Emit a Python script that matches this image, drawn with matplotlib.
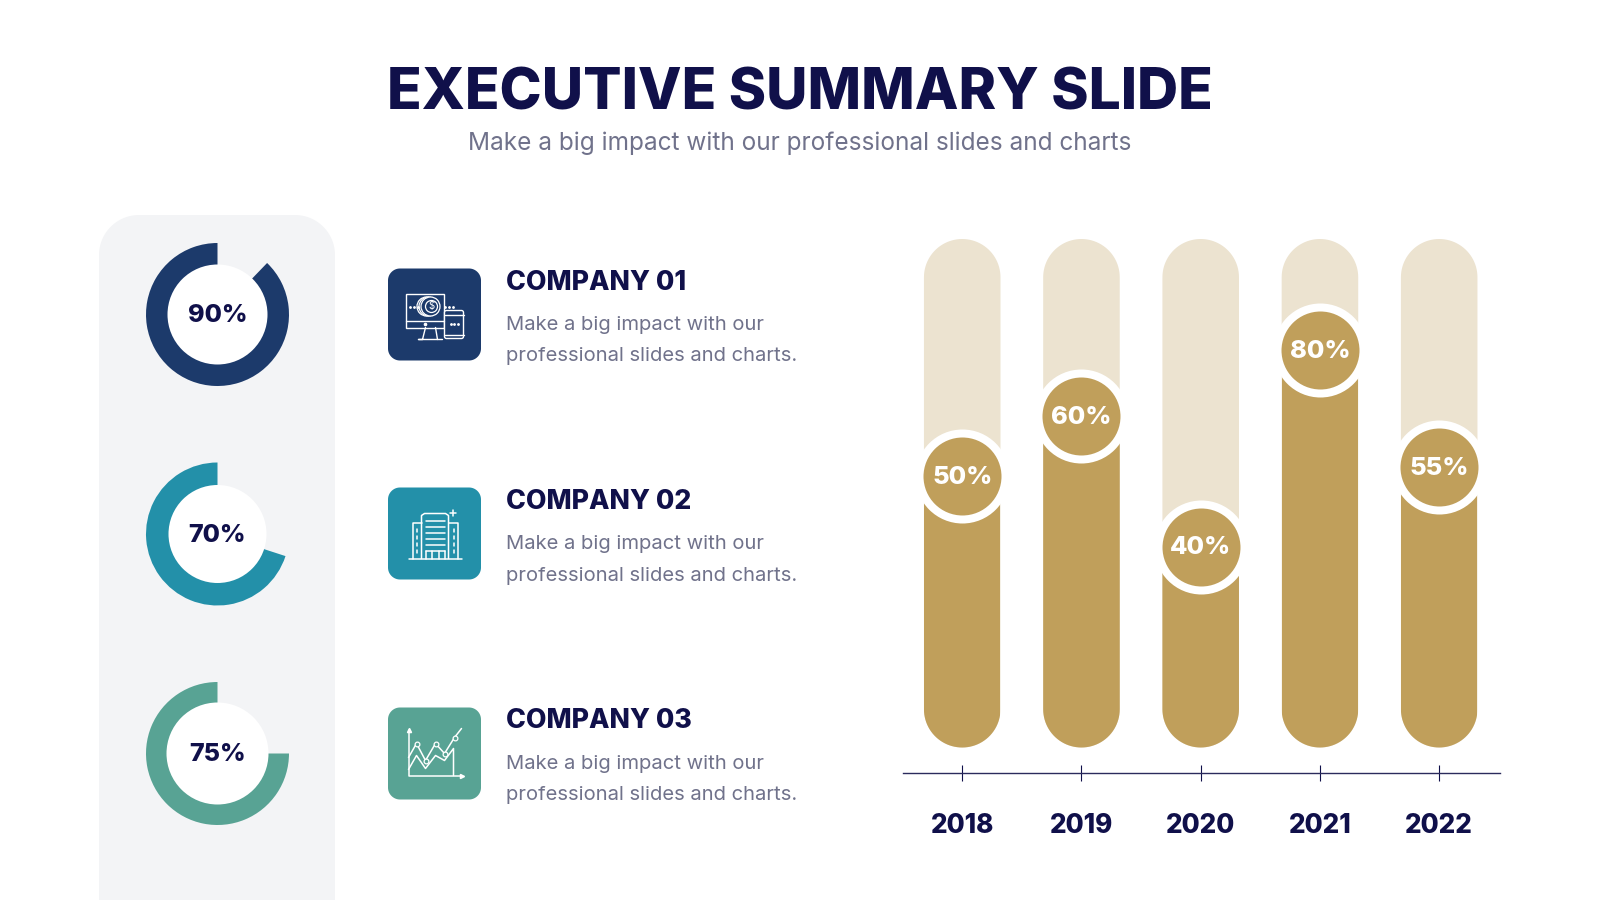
import numpy as np
import matplotlib
matplotlib.use("Agg")
import matplotlib.pyplot as plt
from matplotlib.patches import Circle, Polygon, Rectangle

FONT = "Inter"
INK = "#10104a"
GREY = "#70728b"
GOLD = "#c09f5b"
CREAM = "#ece3d0"
PANEL = "#f3f4f6"

# data
companies = ["COMPANY 01", "COMPANY 02", "COMPANY 03"]
company_colors = ["#1c3a6b", "#2390a9", "#58a394"]
donut_labels = ["90%", "70%", "75%"]
donut_sweep = [87.8, 70.0, 75.0]  # what the rings really show, not the labels
years = [2018, 2019, 2020, 2021, 2022]
bar_labels = ["50%", "60%", "40%", "80%", "55%"]
bar_levels = [53.4, 65.1, 39.5, 78.2, 55.1]

blurb = "Make a big impact with our\nprofessional slides and charts."


def rounded(x0, y0, x1, y1, rx, ry, **kw):
    """Rounded rectangle with true elliptical corners."""
    t = np.linspace(0, np.pi / 2, 24)
    c, s = np.cos(t), np.sin(t)
    xs = np.r_[x1 - rx + rx * c, x0 + rx - rx * s, x0 + rx - rx * c, x1 - rx + rx * s]
    ys = np.r_[y1 - ry + ry * s, y1 - ry + ry * c, y0 + ry - ry * s, y0 + ry - ry * c]
    return Polygon(np.c_[xs, ys], closed=True, **kw)


fig = plt.figure(figsize=(16, 9), dpi=100, facecolor="white")
bg = fig.add_axes([0, 0, 1, 1])
bg.set_xlim(0, 1600)
bg.set_ylim(900, 0)
bg.axis("off")

bg.text(799.5, 95, "EXECUTIVE SUMMARY SLIDE", ha="center", va="center",
        fontsize=40.9, fontweight=800, family=FONT, color=INK)
bg.text(799.5, 143, "Make a big impact with our professional slides and charts",
        ha="center", va="center", fontsize=17.55, family=FONT, color=GREY)

bg.add_patch(rounded(99, 215, 335, 960, 40, 40, fc=PANEL, ec="none"))


# ── icons, local coords are px from the tile centre ─────────────────────────
def icon_money(ax, cx, cy):
    kw = dict(color="white", lw=1.0, solid_capstyle="round")
    ax.add_patch(Rectangle((cx - 29, cy - 21), 38, 34, fc="none", ec="white", lw=1.0))
    ax.plot([cx - 29, cx + 9], [cy + 6, cy + 6], **kw)
    ax.plot([cx - 9, cx - 12, cx - 16, cx + 8], [cy + 13, cy + 25, cy + 25, cy + 25], **kw)
    ax.plot([cx + 1, cx + 3], [cy + 13, cy + 25], **kw)
    ax.add_patch(rounded(cx + 10, cy - 4, cx + 29, cy + 24, 2, 2, fc=company_colors[0], ec="white", lw=1.0))
    ax.plot([cx + 10, cx + 29], [cy + 20, cy + 20], **kw)
    ax.plot([cx + 10, cx + 29], [cy, cy], **kw)
    for dx in (-8, -6, -4):
        ax.add_patch(Circle((cx + dx, cy - 8), 9.5, fc=company_colors[0], ec="white", lw=0.9))
    ax.add_patch(Circle((cx - 3, cy - 8), 6, fc="none", ec="white", lw=0.9))
    ax.text(cx - 3, cy - 8, "$", color="white", fontsize=7, ha="center", va="center", family=FONT)
    for off in (-25, -21, -17, 10, 14, 18):
        ax.plot([cx + off], [cy - 8], "o", color="white", ms=1.0)
    for off in (16, 19.5, 23):
        ax.plot([cx + off], [cy + 9], "o", color="white", ms=1.0)
    ax.plot([cx - 10], [cy + 9], "o", color="white", ms=1.6)


def icon_building(ax, cx, cy):
    kw = dict(color="white", lw=1.1, solid_capstyle="round")
    ax.plot([cx - 26, cx + 27], [cy + 25, cy + 25], **kw)
    ax.plot([cx - 13, cx - 13, cx - 10, cx + 11, cx + 14, cx + 14],
            [cy + 25, cy - 18, cy - 20, cy - 20, cy - 18, cy + 25], **kw)
    ax.plot([cx - 13, cx - 22, cx - 22, cx - 22], [cy - 11, cy - 11, cy - 11, cy + 25], **kw)
    ax.plot([cx + 14, cx + 23, cx + 23], [cy - 11, cy - 11, cy + 25], **kw)
    for dy in (-13, -7, -1, 5, 11):
        ax.plot([cx - 9, cx + 10], [cy + dy, cy + dy], **kw)
    ax.plot([cx - 9, cx + 10], [cy + 17, cy + 17], **kw)
    for dx in (-9, -3, 4, 10):
        ax.plot([cx + dx, cx + dx], [cy + 17, cy + 25], **kw)
    for dx in (-18, 19):
        for dy in (-5, 2, 9, 16):
            ax.plot([cx + dx, cx + dx], [cy + dy, cy + dy + 3], **kw)
    ax.plot([cx + 15, cx + 21], [cy - 21, cy - 21], **kw)
    ax.plot([cx + 18, cx + 18], [cy - 24, cy - 18], **kw)


def icon_chart(ax, cx, cy):
    kw = dict(color="white", lw=1.1, solid_capstyle="round")
    ax.plot([cx - 26, cx - 26, cx + 27], [cy - 24, cy + 22, cy + 22], **kw)
    ax.plot([cx - 26], [cy - 24], "^", color="white", ms=3)
    ax.plot([cx + 27], [cy + 22], ">", color="white", ms=3)
    ax.plot([cx - 26, cx - 18, cx - 9, cx + 1, cx + 10, cx + 20, cx + 27],
            [cy + 4, cy - 10, cy + 7, cy - 10, cy, cy - 16, cy - 25],
            marker="o", ms=3.4, mfc=company_colors[2], mec="white", mew=0.9, markevery=[1, 2, 3, 4, 5], **kw)
    ax.plot([cx - 26, cx - 18, cx - 9, cx + 1, cx + 10, cx + 19, cx + 19],
            [cy + 16, cy + 2, cy + 15, cy + 2, cy + 7, cy - 5, cy + 22], **kw)


icons = [icon_money, icon_building, icon_chart]
tile_y = [314.5, 533.5, 753.5]
title_y = [282.5, 502, 721.5]

for name, col, draw, ty, hy in zip(companies, company_colors, icons, tile_y, title_y):
    bg.add_patch(rounded(388, ty - 46, 481, ty + 46, 12, 12, fc=col, ec="none"))
    draw(bg, 434.5, ty)
    bg.text(505.5, hy, name, va="center", fontsize=19.2, fontweight=800, family=FONT, color=INK)
    bg.text(505.5, hy + 58, blurb, va="center", fontsize=14.55, family=FONT, color=GREY, linespacing=1.94)

# ── donuts ─────────────────────────────────────────────────────────────────
donut_y = [314.5, 534, 753.5]
donut_out = [71.5, 71.5, 71.5]
donut_in = [50, 49, 51]
for sweep, col, lab, cy, ro, ri in zip(donut_sweep, company_colors, donut_labels, donut_y, donut_out, donut_in):
    ax = fig.add_axes([(217.5 - ro) / 1600, 1 - (cy + ro) / 900, 2 * ro / 1600, 2 * ro / 900])
    ax.pie([sweep, 100 - sweep], colors=[col, "none"], startangle=90, counterclock=True, radius=1)
    ax.add_patch(Circle((0, 0), ri / ro, fc="white", ec="none", zorder=3))
    ax.set_xlim(-1, 1)
    ax.set_ylim(-1, 1)
    ax.text(0, -0.02, lab, ha="center", va="center", fontsize=18, fontweight=800,
            family=FONT, color=INK, zorder=4)

# ── pill bars ──────────────────────────────────────────────────────────────
left, right, top, bottom = 902.6, 1500, 239, 747.5
ax = fig.add_axes([left / 1600, 1 - bottom / 900, (right - left) / 1600, (bottom - top) / 900])
ax.patch.set_visible(False)
ax.set_xlim(2017.5, 2022.51)
ax.set_ylim(0, 100)

width = 0.642
ry = 7.52
for yr, lvl in zip(years, bar_levels):
    track = rounded(yr - width / 2, 0, yr + width / 2, 100, width / 2, ry, fc=CREAM, ec="none", zorder=1)
    ax.add_patch(track)
    bar = ax.bar(yr, lvl, width=width, color=GOLD, zorder=2)[0]
    bar.set_clip_path(track)

ax.scatter(years, bar_levels, s=(2 * 43 * 0.72) ** 2, c=GOLD, edgecolors="white",
           linewidths=8 * 0.72, zorder=3, clip_on=False)
for yr, lvl, lab in zip(years, bar_levels, bar_labels):
    ax.text(yr, lvl - 0.25, lab, ha="center", va="center", color="white", fontsize=18.3,
            fontweight=800, family=FONT, zorder=4)

for side in ("left", "top", "right"):
    ax.spines[side].set_visible(False)
ax.spines["bottom"].set_position(("outward", 18.4))
ax.spines["bottom"].set_color("#2b2b5c")
ax.spines["bottom"].set_linewidth(1.0)
ax.set_yticks([])
ax.set_xticks(years)
ax.set_xticklabels([str(y) for y in years], fontsize=18.8, fontweight=800, family=FONT, color=INK)
ax.tick_params(axis="x", direction="inout", length=11.5, width=0.8, color=INK, pad=23.3)

fig.savefig("out.png", dpi=100, facecolor="white")
